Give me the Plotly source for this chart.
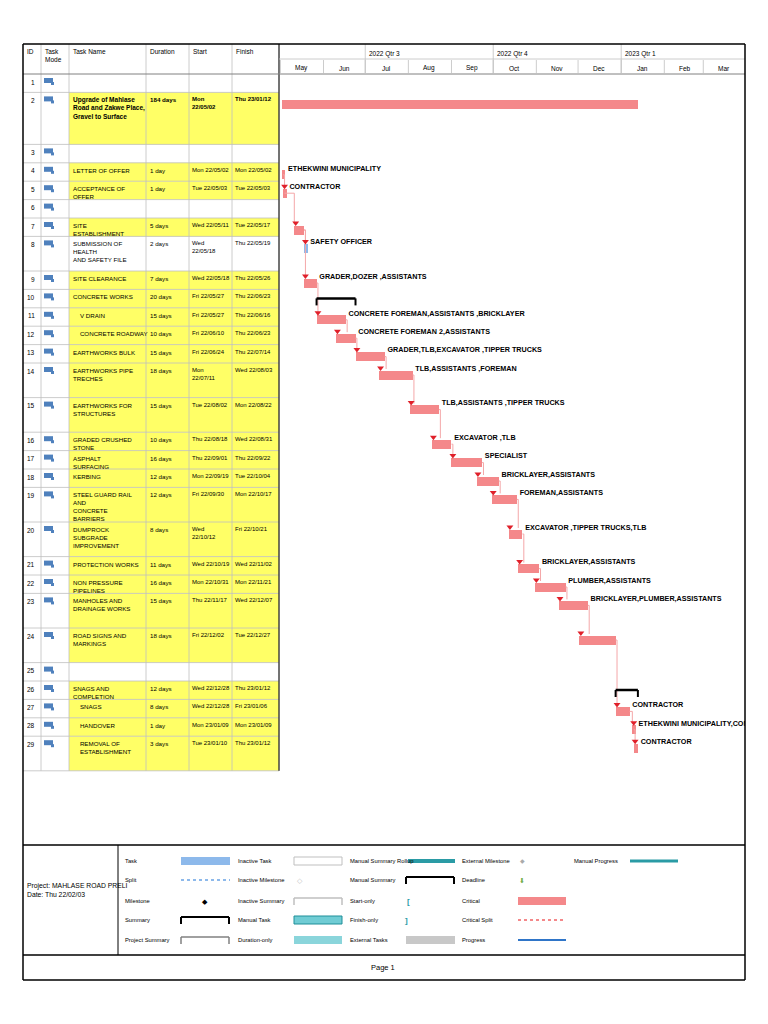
import plotly.graph_objects as go
import pandas as pd

# ---------------- DATA ----------------
ids = list(range(1, 30))
names = ["", "Upgrade of Mahlase<br>Road and Zakwe Place,<br>Gravel to Surface", "", "LETTER OF OFFER",
         "ACCEPTANCE OF OFFER", "", "SITE ESTABLISHMENT", "SUBMISSION OF HEALTH<br>AND SAFETY FILE",
         "SITE CLEARANCE", "CONCRETE WORKS", "    V DRAIN", "    CONCRETE ROADWAY", "EARTHWORKS BULK",
         "EARTHWORKS PIPE<br>TRECHES", "EARTHWORKS FOR<br>STRUCTURES", "GRADED CRUSHED STONE",
         "ASPHALT SURFACING", "KERBING", "STEEL GUARD RAIL AND<br>CONCRETE BARRIERS",
         "DUMPROCK SUBGRADE<br>IMPROVEMENT", "PROTECTION WORKS", "NON PRESSURE PIPELINES",
         "MANHOLES AND<br>DRAINAGE WORKS", "ROAD SIGNS AND<br>MARKINGS", "", "SNAGS AND COMPLETION",
         "    SNAGS", "    HANDOVER", "    REMOVAL OF<br>    ESTABLISHMENT"]
durations = ["", "184 days", "", "1 day", "1 day", "", "5 days", "2 days", "7 days", "20 days", "15 days",
             "10 days", "15 days", "18 days", "15 days", "10 days", "16 days", "12 days", "12 days", "8 days",
             "11 days", "16 days", "15 days", "18 days", "", "12 days", "8 days", "1 day", "3 days"]
start_txt = ["", "Mon<br>22/05/02", "", "Mon 22/05/02", "Tue 22/05/03", "", "Wed 22/05/11", "Wed<br>22/05/18",
             "Wed 22/05/18", "Fri 22/05/27", "Fri 22/05/27", "Fri 22/06/10", "Fri 22/06/24", "Mon<br>22/07/11",
             "Tue 22/08/02", "Thu 22/08/18", "Thu 22/09/01", "Mon 22/09/19", "Fri 22/09/30", "Wed<br>22/10/12",
             "Wed 22/10/19", "Mon 22/10/31", "Thu 22/11/17", "Fri 22/12/02", "", "Wed 22/12/28",
             "Wed 22/12/28", "Mon 23/01/09", "Tue 23/01/10"]
finish_txt = ["", "Thu 23/01/12", "", "Mon 22/05/02", "Tue 22/05/03", "", "Tue 22/05/17", "Thu 22/05/19",
              "Thu 22/05/26", "Thu 22/06/23", "Thu 22/06/16", "Thu 22/06/23", "Thu 22/07/14", "Wed 22/08/03",
              "Mon 22/08/22", "Wed 22/08/31", "Thu 22/09/22", "Tue 22/10/04", "Mon 22/10/17", "Fri 22/10/21",
              "Wed 22/11/02", "Mon 22/11/21", "Wed 22/12/07", "Tue 22/12/27", "", "Thu 23/01/12",
              "Fri 23/01/06", "Mon 23/01/09", "Thu 23/01/12"]
resources = ["", "", "", "ETHEKWINI MUNICIPALITY", "CONTRACTOR", "", "", "SAFETY OFFICER",
             "GRADER,DOZER ,ASSISTANTS", "", "CONCRETE FOREMAN,ASSISTANTS ,BRICKLAYER",
             "CONCRETE FOREMAN 2,ASSISTANTS", "GRADER,TLB,EXCAVATOR ,TIPPER TRUCKS", "TLB,ASSISTANTS ,FOREMAN",
             "TLB,ASSISTANTS ,TIPPER TRUCKS", "EXCAVATOR ,TLB", "SPECIALIST", "BRICKLAYER,ASSISTANTS",
             "FOREMAN,ASSISTANTS", "EXCAVATOR ,TIPPER TRUCKS,TLB", "BRICKLAYER,ASSISTANTS",
             "PLUMBER,ASSISTANTS", "BRICKLAYER,PLUMBER,ASSISTANTS", "", "", "", "CONTRACTOR",
             "ETHEKWINI MUNICIPALITY,CONTRACTOR", "CONTRACTOR"]
highlight = [False, True, False, True, True, False, True, False] + [True] * 16 + [False, True, True, True, True]
summary_ids = [10, 26]
noncritical_ids = [8]
links = [(4, 5), (5, 7), (7, 8), (7, 9), (9, 11), (11, 12), (12, 13), (13, 14), (14, 15), (15, 16), (16, 17),
         (17, 18), (18, 19), (19, 20), (20, 21), (21, 22), (22, 23), (23, 24), (24, 27), (27, 28), (28, 29)]
months = ["May", "Jun", "Jul", "Aug", "Sep", "Oct", "Nov", "Dec", "Jan", "Feb", "Mar"]
month_starts = pd.date_range("2022-05-01", periods=11, freq="MS")
quarters = ["2022 Qtr 3", "2022 Qtr 4", "2023 Qtr 1"]
quarter_starts = ["2022-07-01", "2022-10-01", "2023-01-01"]

def pdate(t):
    t = t.replace("<br>", " ").split()[-1]
    return pd.to_datetime("20" + t, format="%Y/%m/%d")

# ---------------- LAYOUT GEOMETRY ----------------
W, H = 768, 1024
OFF = 8  # page body margin compensation
FONT = "Liberation Sans Narrow, Liberation Sans, Arial"
RED = "#F4888A"
shapes, ann = [], []
px = lambda v: (v - OFF) / W

def line(x0, y0, x1, y1, color="#000", width=1, dash=None, xref="paper"):
    fx = px if xref == "paper" else (lambda v: v)
    shapes.append(dict(type="line", xref=xref, yref="y", x0=fx(x0), x1=fx(x1), y0=y0, y1=y1,
                       line=dict(color=color, width=width, dash=dash)))

def rect(x0, y0, x1, y1, fill, lc=None, lw=0, xref="paper"):
    fx = px if xref == "paper" else (lambda v: v)
    shapes.append(dict(type="rect", xref=xref, yref="y", x0=fx(x0), x1=fx(x1), y0=y0, y1=y1,
                       fillcolor=fill, line=dict(color=lc or fill, width=lw), layer="below"))

def text(x, y, s, size=8, anchor="left", color="#000", xref="paper", xshift=0, bold=False, va="middle"):
    ann.append(dict(x=px(x) if xref == "paper" else x, y=y, xref=xref, yref="y", text=("<b>%s</b>" % s) if bold else s,
                    showarrow=False, xanchor=anchor, yanchor=va, xshift=xshift, align="left",
                    font=dict(family=FONT, size=size, color=color)))

def wrap(s, n):
    out = []
    for part in s.split("<br>"):
        indent = part[:len(part) - len(part.lstrip())]
        cur = ""
        for w in part.split():
            if cur and len(cur) + 1 + len(w) > n:
                out.append(indent + cur); cur = w
            else:
                cur = (cur + " " + w) if cur else w
        out.append(indent + cur)
    return "<br>".join(out)

cols = [23, 41, 69, 146, 189, 232, 279]
heights = {1: 18.4, 2: 34.6, 3: 52}
lines_n = [n.count("<br>") + 1 if n else 1 for n in names]
lines_n = [max(l, s.count("<br>") + 1) for l, s in zip(lines_n, start_txt)]
tops = [74.0]
for l in lines_n:
    tops.append(tops[-1] + heights[l])
table_bottom = tops[-1]

for i, rid in enumerate(ids):
    t, b = tops[i], tops[i + 1]
    if highlight[i]:
        rect(69, t, 279, b, "#FFFF66")
    rect(44, t + 4, 53, t + 9, "#4F81BD")
    rect(51, t + 8, 54, t + 11, "#4F81BD")
    line(23, b, 279, b, "#BFBFBF", 0.8)
    text(37, t + 8, str(rid), 6.5, "right")
    bold = rid == 2
    nm = names[i] if rid == 2 else wrap(names[i], 16)
    ann.append(dict(x=px(71), y=t + 2, xref="paper", yref="y", text=nm if not bold else "<b>%s</b>" % nm.replace("<br>", "</b><br><b>"),
                    showarrow=False, xanchor="left", yanchor="top", align="left",
                    font=dict(family=FONT, size=6.2 if not bold else 6.5, color="#000")))
    text(148, t + 2, durations[i], 6.2, bold=bold, va="top")
    text(190, t + 2, start_txt[i], 6.0, bold=bold, va="top")
    text(233, t + 2, finish_txt[i], 6.0, bold=bold, va="top")

for c in cols[1:]:
    line(c, 44, c, table_bottom, "#BFBFBF", 0.8)
line(279, 44, 279, table_bottom, "#000", 1)
for x, s in zip(cols[:-1], ["ID", "Task<br>Mode", "Task Name", "Duration", "Start", "Finish"]):
    text(x + 2, 46, s, 6.5, va="top")
line(279, 59, 745, 59, "#BFBFBF", 0.8)
line(23, 74, 745, 74, "#808080", 1)
for m, ms in zip(months, month_starts):
    mid = ms + pd.Timedelta(days=15)
    ann.append(dict(x=mid, y=68, xref="x", yref="y", text=m, showarrow=False,
                    font=dict(family=FONT, size=6.5, color="#000")))
    shapes.append(dict(type="line", xref="x", yref="y", x0=ms, x1=ms, y0=60, y1=74,
                       line=dict(color="#BFBFBF", width=0.8)))
for q, qs in zip(quarters, quarter_starts):
    ann.append(dict(x=qs, y=54, xref="x", yref="y", text=q, showarrow=False, xanchor="left", xshift=2,
                    font=dict(family=FONT, size=6.5, color="#000")))
    shapes.append(dict(type="line", xref="x", yref="y", x0=qs, x1=qs, y0=44, y1=74,
                       line=dict(color="#BFBFBF", width=0.8)))

line(23, 44, 745, 44, "#000", 1.5)
line(23, 44, 23, 980, "#000", 1.5)
line(745, 44, 745, 980, "#000", 1.5)
line(23, 845, 745, 845, "#000", 1.5)
line(23, 955, 745, 955, "#000", 1.5)
line(23, 980, 745, 980, "#000", 1.5)
line(118, 845, 118, 955, "#000", 1)
text(383, 967, "Page 1", 7.5, "center")
text(25, 890, "Project: MAHLASE ROAD PRELI<br>Date: Thu 22/02/03", 6.8)

# ---------------- GANTT ----------------
bar_y = {rid: tops[i] + 12 for i, rid in enumerate(ids)}
fig = go.Figure()
lab_x, lab_y, lab_t = [], [], []
for i, rid in enumerate(ids):
    if not durations[i] or rid in summary_ids:
        continue
    s = pdate(start_txt[i]); f = pdate(finish_txt[i]) + pd.Timedelta(days=1)
    yb = bar_y[rid]
    color = "#8DB9EB" if rid in noncritical_ids else RED
    ln = (f - s).total_seconds() * 1000
    if rid in (4, 5, 28, 29, 8):
        ln = max(ln, 2.5 * 86400000)
    fig.add_trace(go.Bar(y=[yb], x=[ln], base=[s], orientation="h", width=[9],
                         marker=dict(color=color, line=dict(width=0)), showlegend=False, hoverinfo="skip"))
    if resources[i]:
        lab_x.append(s + pd.Timedelta(milliseconds=ln) + pd.Timedelta(days=2))
        lab_y.append(yb - 6)
        lab_t.append("<b>%s</b>" % resources[i])
fig.add_trace(go.Scatter(x=lab_x, y=lab_y, text=lab_t, mode="text", textposition="middle right",
                         textfont=dict(family=FONT, size=7.2, color="#000"), cliponaxis=True,
                         showlegend=False, hoverinfo="skip"))
for rid in summary_ids:
    i = rid - 1
    s = pdate(start_txt[i]); f = pdate(finish_txt[i]) + pd.Timedelta(days=1)
    y = bar_y[rid] - 3
    shapes.append(dict(type="line", xref="x", yref="y", x0=s, x1=f, y0=y, y1=y, line=dict(color="#000", width=2.5)))
    for xx in (s, f):
        shapes.append(dict(type="line", xref="x", yref="y", x0=xx, x1=xx, y0=y, y1=y + 7,
                           line=dict(color="#000", width=2)))

lx, ly, tx, ty = [], [], [], []
for a, b in links:
    fa = pdate(finish_txt[a - 1]) + pd.Timedelta(days=1)
    sb = pdate(start_txt[b - 1])
    xa = max(fa, sb) + pd.Timedelta(days=1)
    lx += [fa, xa if fa >= sb else sb, xa if fa >= sb else sb, None]
    ly += [bar_y[a], bar_y[a], bar_y[b] - 6, None]
    tx.append(sb + pd.Timedelta(days=1)); ty.append(bar_y[b] - 7)
fig.add_trace(go.Scatter(x=lx, y=ly, mode="lines", line=dict(color="#F4A7A8", width=1), showlegend=False,
                         hoverinfo="skip"))
fig.add_trace(go.Scatter(x=tx, y=ty, mode="markers", marker=dict(symbol="triangle-down", size=6, color="#E0202A"),
                         showlegend=False, hoverinfo="skip"))

# ---------------- LEGEND ----------------
leg_y = [861, 880, 901, 920, 940]
legend_cols = [
    (123, 181, ["Task", "Split", "Milestone", "Summary", "Project Summary"]),
    (236, 294, ["Inactive Task", "Inactive Milestone", "Inactive Summary", "Manual Task", "Duration-only"]),
    (348, 406, ["Manual Summary Rollup", "Manual Summary", "Start-only", "Finish-only", "External Tasks"]),
    (460, 518, ["External Milestone", "Deadline", "Critical", "Critical Split", "Progress"]),
    (572, 630, ["Manual Progress"]),
]
for lxp, sx, labels in legend_cols:
    for y, lab in zip(leg_y, labels):
        text(lxp, y, lab, 5.8)

def bracket(x0, y, color, w=2):
    line(x0, y - 3, x0 + 48, y - 3, color, w)
    line(x0, y - 3, x0 + 0.01, y + 4, color, w)
    line(x0 + 48, y - 3, x0 + 48.01, y + 4, color, w)

rect(181, 857, 230, 865, "#8DB9EB")
line(181, 880, 230, 880, "#8DB9EB", 2, "dot")
text(205, 901, "◆", 7, "center")
bracket(181, 920, "#000", 2)
bracket(181, 940, "#808080", 1.5)
rect(294, 857, 342, 865, "#FFFFFF", "#BFBFBF", 1)
text(300, 880, "◇", 7, "center", "#BFBFBF")
bracket(294, 901, "#BFBFBF", 1.5)
rect(294, 916, 342, 924, "#70CCD4", "#1F8F99", 1)
rect(294, 936, 342, 944, "#8AD5DB")
rect(408, 859, 455, 863, "#2A9BA5")
bracket(406, 880, "#000", 2)
text(408, 901, "[", 8, "center", "#2A9BA5", bold=True)
text(406, 920, "]", 8, "center", "#2A9BA5", bold=True)
rect(406, 936, 455, 944, "#C8C8C8")
text(522, 861, "◆", 6, "center", "#AAAAAA")
text(522, 880, "⬇", 7, "center", "#70AD47")
rect(518, 897, 566, 905, RED)
line(518, 920, 566, 920, RED, 2, "dot")
line(518, 940, 566, 940, "#2F75C8", 2)
line(630, 861, 678, 861, "#2A9BA5", 3)

fig.update_layout(
    width=W, height=H, margin=dict(l=0, r=0, t=0, b=0), paper_bgcolor="white", plot_bgcolor="rgba(0,0,0,0)",
    xaxis=dict(type="date", domain=[px(279), px(745)], range=["2022-04-30", "2023-03-31"], visible=False),
    yaxis=dict(range=[H + OFF, OFF], domain=[0, 1], visible=False),
    shapes=shapes, annotations=ann, barmode="overlay", bargap=0)
fig.write_html("out.html")
